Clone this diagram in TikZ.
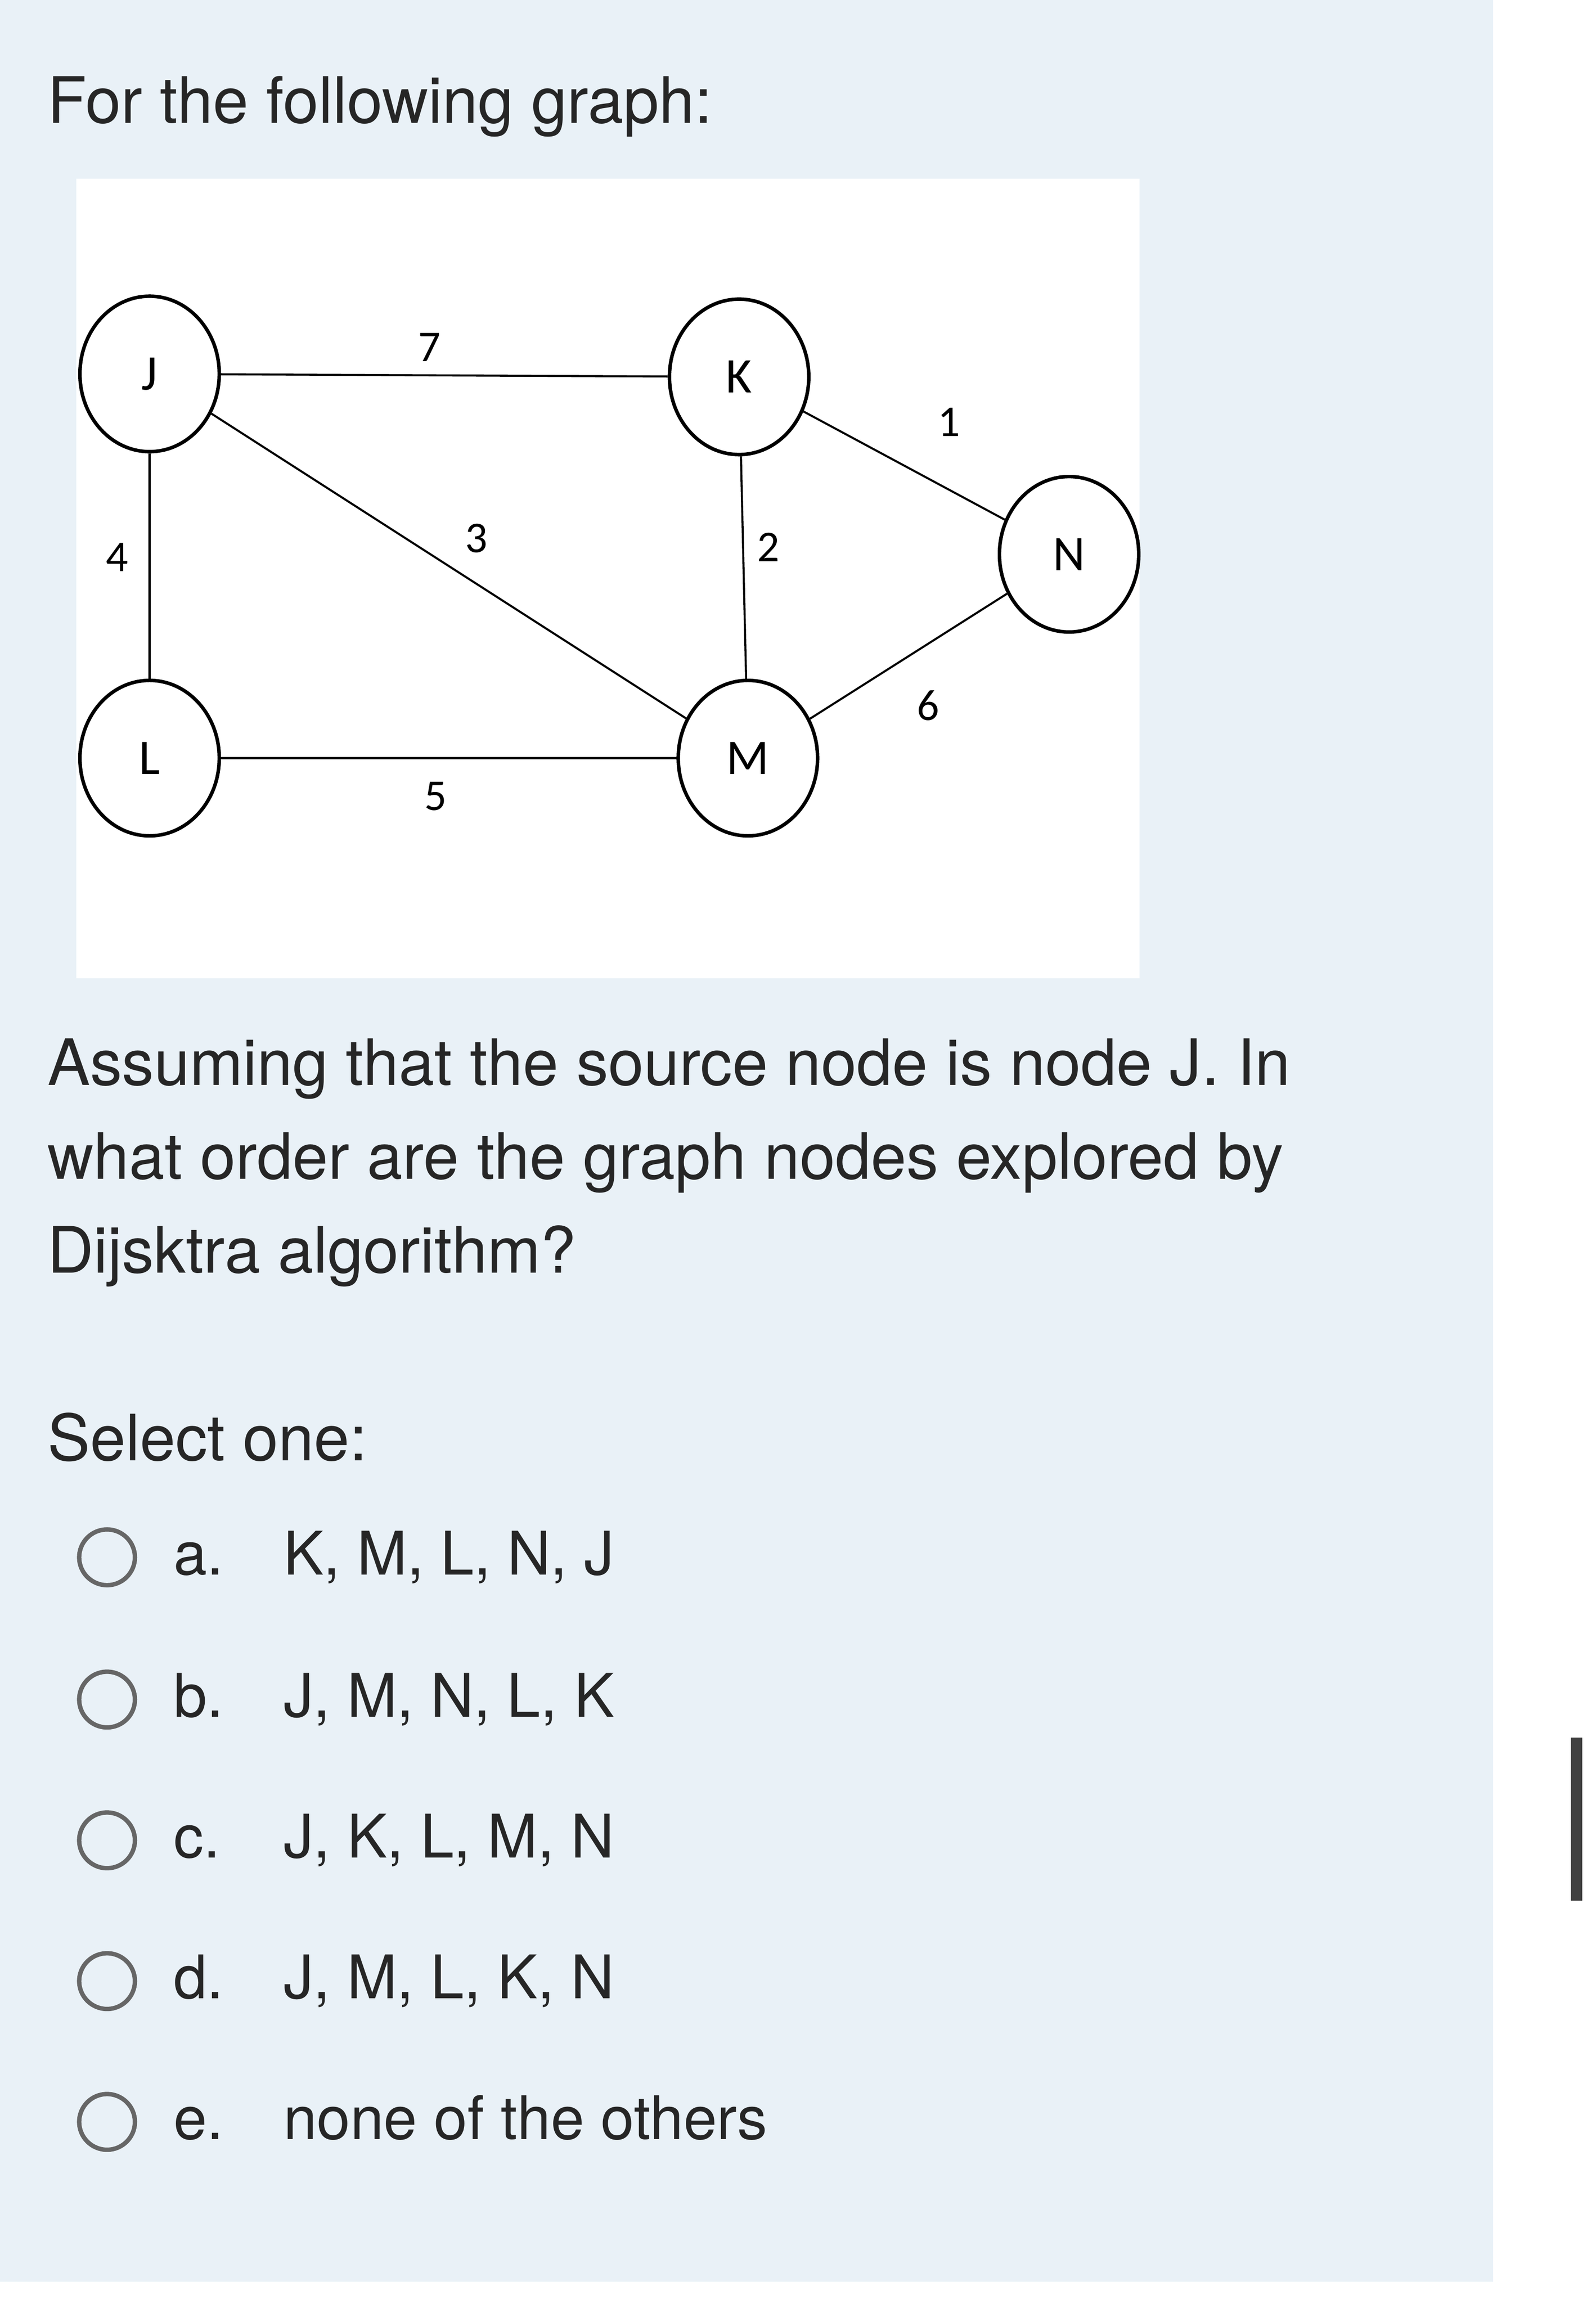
\documentclass[tikz,border=0pt]{standalone}
\usepackage{fontspec}
\setmainfont{TeX Gyre Heros}
\newfontfamily\carlitofont{Carlito}
\usetikzlibrary{shapes.geometric}
\definecolor{bg}{HTML}{E9F1F7}
\begin{document}
\begin{tikzpicture}[x=0.5pt,y=-0.5pt,
  vtx/.style={draw,line width=1.2pt,ellipse,minimum width=47.5pt,minimum height=53pt,inner sep=0pt,font=\carlitofont\fontsize{17}{20}\selectfont},
  wt/.style={font=\carlitofont\fontsize{15}{17}\selectfont,inner sep=1pt},
  big/.style={anchor=base west,inner sep=0pt,font=\fontsize{21.8}{26}\selectfont,text=black!85},
  opt/.style={anchor=base west,inner sep=0pt,font=\fontsize{20.5}{24}\selectfont,text=black!85},
  radio/.style={draw=black!60,line width=1.5pt,circle,minimum size=19pt,inner sep=0pt},
  edge/.style={line width=0.7pt}]
\useasboundingbox (0,0) rectangle (1088,1571.2);
\fill[white] (0,0) rectangle (1088,1571.2);
\fill[bg] (0,0) rectangle (1018,1556);
\fill[black!75] (1071,1185) rectangle (1079,1296);
\fill[white] (52,122) rectangle (777,667);
\node[big] (title) at (32,84) {For the following graph:};
\node[vtx] (J) at (102,255) {J};
\node[vtx] (K) at (504,257) {K};
\node[vtx] (N) at (729,378) {N};
\node[vtx] (L) at (102,517) {L};
\node[vtx] (M) at (510,517) {M};
\draw[edge] (J) -- (K);
\draw[edge] (J) -- (M);
\draw[edge] (J) -- (L);
\draw[edge] (K) -- (M);
\draw[edge] (K) -- (N);
\draw[edge] (M) -- (N);
\draw[edge] (L) -- (M);
\node[wt] (w7) at (293,237) {7};
\node[wt] (w3) at (325,367) {3};
\node[wt] (w4) at (80,380) {4};
\node[wt] (w2) at (524,373) {2};
\node[wt] (w1) at (647,288) {1};
\node[wt] (w6) at (633,481) {6};
\node[wt] (w5) at (297,543) {5};
\node[big] (q1) at (32,740) {Assuming that the source node is node J. In};
\node[big] (q2) at (32,804) {what order are the graph nodes explored by};
\node[big] (q3) at (32,868) {Dijsktra algorithm?};
\node[big] (sel) at (32,996) {Select one:};
\foreach \y/\l/\t/\n in {1062/a./{K, M, L, N, J}/a,1159/b./{J, M, N, L, K}/b,1255/c./{J, K, L, M, N}/c,1351/d./{J, M, L, K, N}/d,1447/e./{none of the others}/e}{
  \node[radio] (r\n) at (73,\y) {};
  \node[opt] (l\n) at (118,\y+12) {\l};
  \node[opt] (t\n) at (193,\y+12) {\t};
}
\end{tikzpicture}
\end{document}
